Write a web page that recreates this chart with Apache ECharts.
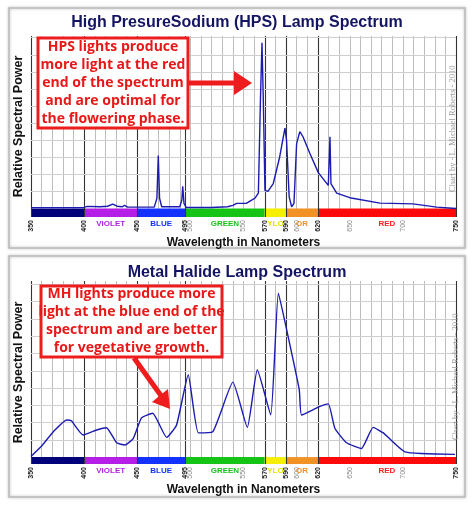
<!DOCTYPE html>
<html><head><meta charset="utf-8">
<script src="https://cdn.jsdelivr.net/npm/echarts@6/dist/echarts.min.js"></script>
<style>html,body{margin:0;padding:0;background:#fff}#c{width:474px;height:507px}</style>
</head><body><div id="c"></div>
<script>
// HPS spectrum: [wavelength nm, relative power]
const hpsData = [[350,0.5],[380,0.5],[400,0.6],[403,1.2],[415,1],[422,1.3],[427,2.6],[431,1.3],[436,1],[438,1.8],[441,0.8],[466,0.8],[468.5,6],[469.8,31],[471,6],[473,1],[490,1],[492,5],[492.8,13],[494,3],[496,0.6],[520,0.6],[535,1],[540,1.8],[543.6,3],[552.6,3],[560.8,6],[564,9],[566,65],[567.4,97],[568.6,65],[570.2,10.6],[573,10],[578,14.6],[584,30],[589,47],[590.5,40],[593,6.7],[595.3,1],[597.5,3],[600,38],[603,45],[606,42],[612.6,32],[620.4,21],[629.8,13.5],[631.4,42],[632.3,14.6],[637.7,9],[650,6.3],[678.5,3.1],[690,3],[709.5,2.7],[731.8,0.8],[750,0]];
// Metal halide spectrum
const mhData = [[350,0.4],[360,6.4],[371,14.7],[383.6,21.5],[388,21],[399,12.8],[411.8,15.7],[421,17],[430.6,8.3],[438.5,7],[446.3,10.9],[454,22.7],[464.5,25.4],[477.7,11.4],[487,18.6],[498,47.7],[507.5,14],[521,14.7],[540,43.4],[553.6,17.2],[563,50.6],[575.6,24.4],[582.8,95],[590.6,73.8],[602.5,39],[604.7,24.4],[620.4,28.9],[629.8,30.8],[636,16.7],[647,8.3],[661,5],[672,17.2],[681.6,14],[702,3],[749,1.6]];
const tickValues = [350,400,450,495,500,550,570,590,600,620,650,700,750];
const majorTicks = [350,400,450,495,570,590,620,750];
const bands = [
  {name:'', from:350, to:400, color:'#00007a', label:'#00007a'},
  {name:'VIOLET', from:400, to:450, color:'#b41ee6', label:'#b41ee6'},
  {name:'BLUE', from:450, to:495, color:'#1432ff', label:'#1432ff'},
  {name:'GREEN', from:495, to:570, color:'#16c416', label:'#16c416'},
  {name:'YLO', from:570, to:590, color:'#f6f000', label:'#e8e000'},
  {name:'OR', from:590, to:620, color:'#f39224', label:'#f39224'},
  {name:'RED', from:620, to:750, color:'#ff0a0a', label:'#ff2020'}
];
const hLines = [10,20,30,40,50,60,70,80,90,100];
const titles = ['High PresureSodium (HPS) Lamp Spectrum','Metal Halide Lamp Spectrum'];
const notes = [['HPS lights produce','more light at the red','end of the spectrum','and are optimal for','the flowering phase.'],
               ['MH lights produce more','light at the blue end of the','spectrum and are better','for vegetative growth.']];
const credit = 'Chart by - L. Michael Roberts - 2010';

const chart = echarts.init(document.getElementById('c'));
const grids = [{left:31,right:18,top:36,height:181},{left:31,right:18,top:281,height:183}];
const yr = [[-5,101],[-4,102]];
function xAxis(i){return {type:'value',gridIndex:i,min:350,max:750,interval:10,
  name:'Wavelength in Nanometers',nameLocation:'middle',nameGap:20,
  nameTextStyle:{fontFamily:'Liberation Sans',fontWeight:'bold',fontSize:12,color:'#111'},
  axisLine:{show:false},axisTick:{show:false},
  splitLine:{show:true,lineStyle:{color:'#bdbdbd',width:1}},
  axisLabel:{customValues:tickValues,rotate:90,margin:3,fontSize:7,fontFamily:'Liberation Sans',
    formatter:v=>majorTicks.includes(v)?'{a|'+v+'}':'{b|'+v+'}',
    rich:{a:{fontWeight:'bold',color:'#222',fontSize:7},b:{color:'#888',fontSize:7}}}};}
function yAxis(i){return {type:'value',gridIndex:i,min:yr[i][0],max:yr[i][1],
  name:'Relative Spectral Power',nameLocation:'middle',nameGap:6,nameRotate:90,
  nameTextStyle:{fontFamily:'Liberation Sans',fontWeight:'bold',fontSize:12.5,color:'#111'},
  axisLabel:{show:false},axisTick:{show:false},axisLine:{show:false},splitLine:{show:false}};}
function series(i,data){
  return {type:'line',xAxisIndex:i,yAxisIndex:i,data:data,showSymbol:false,smooth:i===1?0.15:false,
    lineStyle:{color:'#1b1bb0',width:1.4},z:5,silent:true,
    markLine:{silent:true,symbol:'none',label:{show:false},animation:false,
      data:majorTicks.map(v=>({xAxis:v,lineStyle:{color:'#333',width:1.1,type:'solid'}}))
        .concat(hLines.map(v=>({yAxis:v,lineStyle:{color:'#cfcfcf',width:1,type:'solid'}})))},
    markArea:{silent:true,data:bands.map(b=>[{xAxis:b.from,yAxis:yr[i][0],itemStyle:{color:b.color,opacity:1},
      label:{show:true,position:'bottom',distance:3,formatter:b.name,color:b.label,fontWeight:'bold',fontSize:8,fontFamily:'Liberation Sans'}},
      {xAxis:b.to,yAxis:0}])}};
}
function noteBox(x,y,w,h,lines){
  return {type:'group',children:[
    {type:'rect',shape:{x:x,y:y,width:w,height:h},style:{fill:'#fff',stroke:'#ee1c1c',lineWidth:3},z:20},
    {type:'text',x:x+w/2,y:y+h/2,style:{text:lines.join('\n'),fill:'#e81818',font:'bold 14px "Open Sans"',
      align:'center',verticalAlign:'middle',lineHeight:18},z:21}]};
}
chart.setOption({
  animation:false,backgroundColor:'#fff',
  title:[{text:titles[0],left:'center',top:10,textStyle:{fontFamily:'Liberation Sans',fontWeight:'bold',fontSize:16,color:'#141464'}},
         {text:titles[1],left:'center',top:260,textStyle:{fontFamily:'Liberation Sans',fontWeight:'bold',fontSize:16,color:'#141464'}}],
  grid:grids,xAxis:[xAxis(0),xAxis(1)],yAxis:[yAxis(0),yAxis(1)],
  series:[series(0,hpsData),series(1,mhData)],
  graphic:[
    {type:'rect',shape:{x:9,y:8,width:456,height:240},style:{fill:'none',stroke:'#bbb',lineWidth:1.5,shadowBlur:3,shadowColor:'rgba(0,0,0,0.3)'},z:-10},
    {type:'rect',shape:{x:9,y:256,width:456,height:241},style:{fill:'none',stroke:'#bbb',lineWidth:1.5,shadowBlur:3,shadowColor:'rgba(0,0,0,0.3)'},z:-10},
    noteBox(38,38,150,90,notes[0]),
    noteBox(41,286,181,71,notes[1]),
    {type:'polyline',shape:{points:[[189,83],[238,83]]},style:{stroke:'#ee1c1c',lineWidth:5},z:20},
    {type:'polygon',shape:{points:[[234,71],[252,83],[234,95]]},style:{fill:'#ee1c1c'},z:20},
    {type:'polyline',shape:{points:[[134,358],[162,397]]},style:{stroke:'#ee1c1c',lineWidth:5},z:20},
    {type:'polygon',shape:{points:[[152,402],[170,409],[168,389]]},style:{fill:'#ee1c1c'},z:20},
    {type:'text',x:448,y:192,rotation:Math.PI/2,style:{text:credit,fill:'#999',font:'8.5px "Liberation Serif"'},z:10},
    {type:'text',x:451,y:440,rotation:Math.PI/2,style:{text:credit,fill:'#999',font:'8.5px "Liberation Serif"'},z:10}
  ]
});
</script></body></html>
